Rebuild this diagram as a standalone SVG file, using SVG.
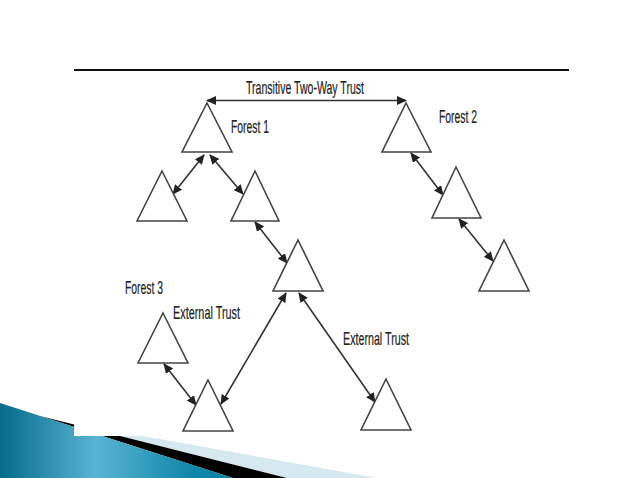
<svg xmlns="http://www.w3.org/2000/svg" width="638" height="478" viewBox="0 0 638 478">
<style>
.tri{fill:#fff;stroke:#444;stroke-width:1.6}
.con{fill:none;stroke:#333;stroke-width:1.6;marker-start:url(#ah);marker-end:url(#ah)}
text{font-family:"Liberation Sans",Arial,sans-serif;font-size:19px;fill:#222;stroke:#222;stroke-width:0.2}
</style>
<defs>
<linearGradient id="teal" gradientUnits="userSpaceOnUse" x1="0" y1="478" x2="240" y2="478">
<stop offset="0" stop-color="#056c88"/><stop offset="0.4" stop-color="#5ab4d4"/><stop offset="0.8" stop-color="#0f87a9"/><stop offset="1" stop-color="#0d7f9f"/>
</linearGradient>
<marker id="ah" viewBox="0 0 10 10" refX="9" refY="5" markerWidth="10" markerHeight="9" markerUnits="userSpaceOnUse" orient="auto-start-reverse" preserveAspectRatio="none">
<path d="M0 0L10 5L0 10Z" fill="#222"/>
</marker>
</defs>
<rect width="638" height="478" fill="#fff"/>
<polygon points="120,436 143,436 377,478 287,478" fill="#d6e8f0"/>
<polygon points="40,416 120,436 287,478 233,478" fill="#000"/>
<polygon points="0,403 233,478 0,478" fill="url(#teal)"/>
<rect x="74" y="380" width="100" height="56" fill="#fff"/>
<line x1="74" y1="70" x2="569" y2="70" stroke="#111" stroke-width="2"/>
<g id="connectors">
<line class="con" x1="207" y1="100.500" x2="406" y2="100.500"/>
<line class="con" x1="204" y1="155" x2="173" y2="194"/>
<line class="con" x1="210" y1="155" x2="243" y2="194"/>
<line class="con" x1="255" y1="222" x2="287" y2="263"/>
<line class="con" x1="286" y1="293" x2="221" y2="404"/>
<line class="con" x1="299" y1="293" x2="375" y2="402"/>
<line class="con" x1="164" y1="364" x2="196" y2="405"/>
<line class="con" x1="411" y1="153" x2="443" y2="195"/>
<line class="con" x1="459" y1="219" x2="493" y2="261"/>
</g>
<g id="forest1-root"><polygon class="tri" points="207,103 232,152 182,152"/></g>
<g id="forest1-left"><polygon class="tri" points="162,171 187,221 137,221"/></g>
<g id="forest1-right"><polygon class="tri" points="255,171 279,221 231,221"/></g>
<g id="forest1-lower"><polygon class="tri" points="298,240 323,291 273,291"/></g>
<g id="forest3-root"><polygon class="tri" points="163,313 188,363 138,363"/></g>
<g id="forest3-child"><polygon class="tri" points="208,380 233,431 183,431"/></g>
<g id="forest1-external"><polygon class="tri" points="386,379 411,430 361,430"/></g>
<g id="forest2-root"><polygon class="tri" points="406,103 431,152 382,152"/></g>
<g id="forest2-mid"><polygon class="tri" points="456,167 481,218 432,218"/></g>
<g id="forest2-low"><polygon class="tri" points="504,240 529,291 479,291"/></g>
<g id="labels">
<text x="246" y="94" textLength="118" lengthAdjust="spacingAndGlyphs">Transitive Two-Way Trust</text>
<text x="231" y="133" textLength="38" lengthAdjust="spacingAndGlyphs">Forest 1</text>
<text x="439" y="123" textLength="38" lengthAdjust="spacingAndGlyphs">Forest 2</text>
<text x="125" y="294" textLength="38" lengthAdjust="spacingAndGlyphs">Forest 3</text>
<text x="173" y="319" textLength="67" lengthAdjust="spacingAndGlyphs">External Trust</text>
<text x="343" y="345" textLength="66" lengthAdjust="spacingAndGlyphs">External Trust</text>
</g>
</svg>
